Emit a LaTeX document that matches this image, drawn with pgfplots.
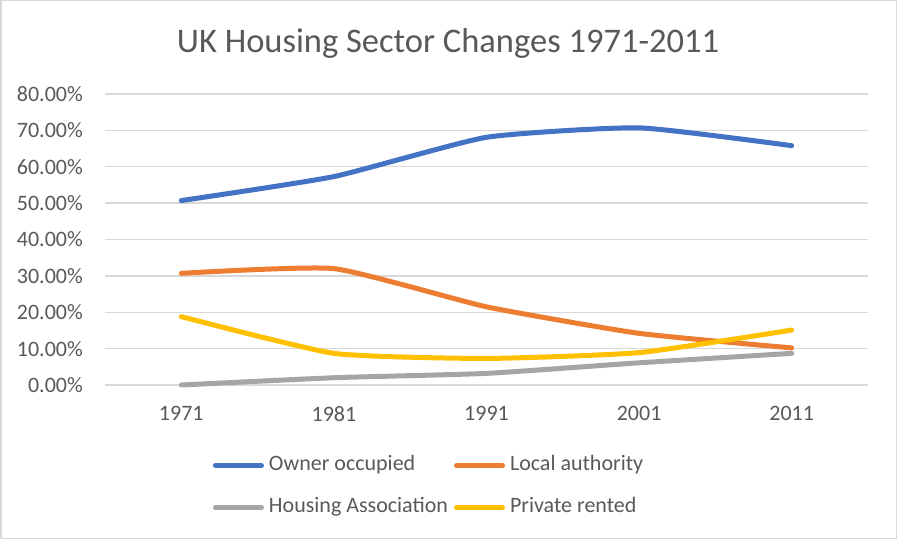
\documentclass[border=0pt]{standalone}
\usepackage{pgfplots}
\pgfplotsset{compat=1.18}
\usepackage{fontspec}
\setmainfont{Carlito}
\definecolor{cBlue}{HTML}{4472C4}
\definecolor{cOrange}{HTML}{ED7D31}
\definecolor{cGray}{HTML}{A5A5A5}
\definecolor{cGold}{HTML}{FFC000}
\definecolor{cText}{HTML}{595959}
\definecolor{cGrid}{HTML}{D9D9D9}
\begin{document}
\begin{tikzpicture}
\fill[white] (0pt,0pt) rectangle (897pt,539pt);
\draw[cGrid, line width=1.5pt] (0.75pt,0.75pt) rectangle (896.25pt,538.25pt);
\begin{axis}[
  at={(105pt,154pt)}, anchor=south west,
  scale only axis, width=763pt, height=291pt,
  clip=false,
  xmin=-0.5, xmax=4.5, ymin=0, ymax=80,
  xtick={0,1,2,3,4}, xticklabels={1971,1981,1991,2001,2011},
  ytick={0,10,20,30,40,50,60,70,80},
  /pgf/number format/assume math mode=true,
  yticklabel={\pgfmathprintnumber[fixed,fixed zerofill,precision=2]{\tick}\%},
  axis line style={draw=none}, major tick length=0pt,
  ymajorgrids, grid style={cGrid, line width=1.4pt},
  ticklabel style={font=\fontsize{22}{26}\selectfont, text=cText},
  yticklabel style={anchor=east, inner sep=0pt, xshift=-22pt},
  xticklabel style={anchor=north, inner sep=0pt, yshift=-21pt},
  title={UK Housing Sector Changes 1971-2011},
  title style={at={(0.4495,1.1237)}, anchor=base, inner sep=0pt, font=\fontsize{34.5}{40}\selectfont, text=cText},
  every axis plot/.append style={line width=5pt, line cap=round, line join=round, smooth, tension=0.3},
  legend columns=2,
  legend cell align=left,
  legend image code/.code={\draw[#1, line width=5pt, line cap=round] (2.5pt,0pt) -- (48.5pt,0pt);},
  legend style={at={(0.1415,-0.2405)}, anchor=north west, draw=none, fill=none, inner sep=0pt, outer sep=0pt,
    font=\fontsize{22}{26}\selectfont, text=cText, row sep=21pt,
    nodes={inner sep=0pt, text height=16pt, text depth=5pt},
    /tikz/every odd column/.append style={column sep=5pt},
    /tikz/every even column/.append style={column sep=6pt}},
]
\addplot[cBlue] coordinates {(0,50.7) (1,57.3) (2,68.1) (3,70.7) (4,65.8)};
\addlegendentry{Owner occupied}
\addplot[cOrange] coordinates {(0,30.7) (1,32.0) (2,21.5) (3,14.2) (4,10.2)};
\addlegendentry{Local authority}
\addplot[cGray] coordinates {(0,0.0) (1,2.0) (2,3.2) (3,6.1) (4,8.7)};
\addlegendentry{Housing Association}
\addplot[cGold] coordinates {(0,18.8) (1,8.7) (2,7.3) (3,8.9) (4,15.1)};
\addlegendentry{Private rented}
\end{axis}
\end{tikzpicture}
\end{document}
